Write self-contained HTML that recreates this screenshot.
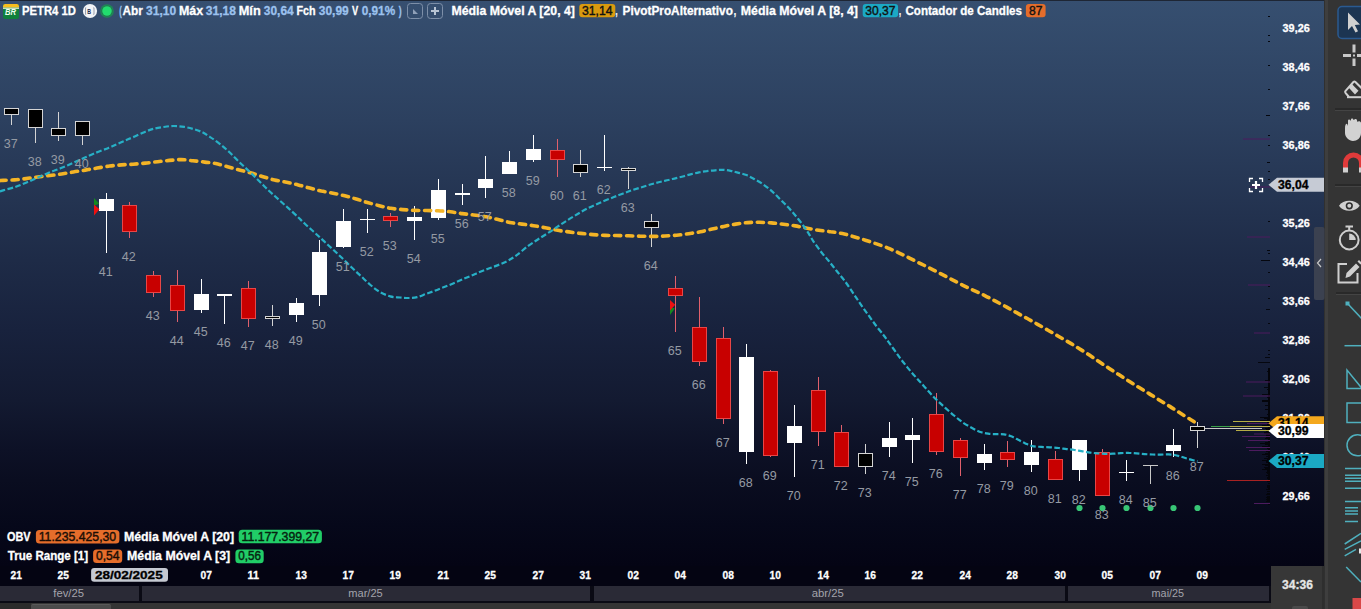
<!DOCTYPE html>
<html><head><meta charset="utf-8">
<style>
*{margin:0;padding:0;box-sizing:border-box}
html,body{width:1361px;height:609px;overflow:hidden;background:#343434;font-family:"Liberation Sans",sans-serif}
.a{position:absolute}
svg{position:absolute;left:0;top:0;font-family:"Liberation Sans",sans-serif}
</style></head><body>
<div class="a" style="left:0;top:0;width:1324px;height:566px;background:linear-gradient(to bottom,#364f70 0px,#2c405f 120px,#1e2b47 260px,#18223d 330px,#131a31 400px,#0d1126 450px,#0a0d20 480px,#06081a 525px,#040414 566px)"></div>
<div class="a" style="left:0;top:566px;width:1271px;height:20px;background:#040412"></div>
<div class="a" style="left:0;top:586px;width:1271px;height:17px;background:#0a0a14"></div>
<div class="a" style="left:0;top:586px;width:139px;height:15px;background:#2a2a36"></div>
<div class="a" style="left:142px;top:586px;width:448px;height:15px;background:#2a2a36"></div>
<div class="a" style="left:594px;top:586px;width:471px;height:15px;background:#2a2a36"></div>
<div class="a" style="left:1068px;top:586px;width:201px;height:15px;background:#2a2a36"></div>
<div class="a" style="left:0;top:603px;width:1271px;height:6px;background:#343434"></div>
<div class="a" style="left:0;top:603px;width:31px;height:6px;background:#2b2b2b"></div>
<div class="a" style="left:31px;top:603.5px;width:80px;height:6px;background:#4b4b4b;border-top:1px solid #585858;border-radius:2px 2px 0 0"></div>
<div class="a" style="left:1271px;top:566px;width:51px;height:43px;background:#373737"></div>
<div class="a" style="left:1292px;top:606px;width:16px;height:3px;background:#4a4a4a;border-radius:2px 2px 0 0"></div>
<div class="a" style="left:1322px;top:566px;width:2px;height:43px;background:#2e2e2e"></div>
<div class="a" style="left:1324px;top:0;width:37px;height:609px;background:#343434"></div>
<div class="a" style="left:1324px;top:0;width:1px;height:609px;background:#303030"></div>
<div class="a" style="left:1325px;top:0;width:3px;height:609px;background:#3e3e3e"></div>
<svg width="1361" height="609" viewBox="0 0 1361 609">
<rect x="1268" y="16" width="2" height="1" fill="#05070f"/>
<rect x="1268" y="35" width="2" height="1" fill="#05070f"/>
<rect x="1268" y="41" width="2" height="1" fill="#05070f"/>
<rect x="1268" y="65" width="2" height="1" fill="#05070f"/>
<rect x="1268" y="89" width="2" height="1" fill="#05070f"/>
<rect x="1266" y="115" width="4" height="1" fill="#05070f"/>
<rect x="1268" y="135" width="2" height="1" fill="#05070f"/>
<rect x="1268" y="145" width="2" height="1" fill="#05070f"/>
<rect x="1267" y="162" width="3" height="1" fill="#05070f"/>
<rect x="1268" y="171" width="2" height="1" fill="#05070f"/>
<rect x="1268" y="179" width="2" height="1" fill="#05070f"/>
<rect x="1268" y="221" width="2" height="1" fill="#05070f"/>
<rect x="1267" y="250" width="3" height="1" fill="#05070f"/>
<rect x="1268" y="253" width="2" height="1" fill="#05070f"/>
<rect x="1261" y="260" width="9" height="1" fill="#05070f"/>
<rect x="1268" y="272" width="2" height="1" fill="#05070f"/>
<rect x="1268" y="286" width="2" height="1" fill="#05070f"/>
<rect x="1268" y="298" width="2" height="1" fill="#05070f"/>
<rect x="1266" y="309" width="4" height="1" fill="#05070f"/>
<rect x="1268" y="323" width="2" height="1" fill="#05070f"/>
<rect x="1268" y="350" width="2" height="1" fill="#05070f"/>
<rect x="1268" y="354" width="2" height="1" fill="#05070f"/>
<rect x="1265" y="357" width="5" height="1" fill="#05070f"/>
<rect x="1258" y="362" width="12" height="1" fill="#05070f"/>
<rect x="1267" y="371" width="3" height="1" fill="#05070f"/>
<rect x="1268" y="375" width="2" height="1" fill="#05070f"/>
<rect x="1265" y="380" width="5" height="1" fill="#05070f"/>
<rect x="1268" y="384" width="2" height="1" fill="#05070f"/>
<rect x="1264" y="387" width="6" height="1" fill="#05070f"/>
<rect x="1267" y="389" width="3" height="1" fill="#05070f"/>
<rect x="1262" y="394" width="8" height="1" fill="#05070f"/>
<rect x="1267" y="397" width="3" height="1" fill="#05070f"/>
<rect x="1268" y="368" width="2" height="112" fill="#04050b"/>
<rect x="1262" y="400" width="8" height="1" fill="#04050b"/>
<rect x="1262" y="401" width="8" height="1" fill="#04050b"/>
<rect x="1265" y="405" width="5" height="1" fill="#04050b"/>
<rect x="1268" y="407" width="2" height="1" fill="#04050b"/>
<rect x="1265" y="409" width="5" height="1" fill="#04050b"/>
<rect x="1268" y="411" width="2" height="1" fill="#04050b"/>
<rect x="1268" y="412" width="2" height="1" fill="#04050b"/>
<rect x="1267" y="414" width="3" height="1" fill="#04050b"/>
<rect x="1260" y="417" width="10" height="1" fill="#04050b"/>
<rect x="1264" y="418" width="6" height="1" fill="#04050b"/>
<rect x="1267" y="419" width="3" height="1" fill="#04050b"/>
<rect x="1260" y="420" width="10" height="1" fill="#04050b"/>
<rect x="1260" y="421" width="10" height="1" fill="#04050b"/>
<rect x="1267" y="422" width="3" height="1" fill="#04050b"/>
<rect x="1267" y="424" width="3" height="1" fill="#04050b"/>
<rect x="1262" y="425" width="8" height="1" fill="#04050b"/>
<rect x="1267" y="426" width="3" height="1" fill="#04050b"/>
<rect x="1265" y="428" width="5" height="1" fill="#04050b"/>
<rect x="1266" y="429" width="4" height="1" fill="#04050b"/>
<rect x="1267" y="430" width="3" height="1" fill="#04050b"/>
<rect x="1266" y="431" width="4" height="1" fill="#04050b"/>
<rect x="1264" y="432" width="6" height="1" fill="#04050b"/>
<rect x="1264" y="433" width="6" height="1" fill="#04050b"/>
<rect x="1266" y="434" width="4" height="1" fill="#04050b"/>
<rect x="1266" y="435" width="4" height="1" fill="#04050b"/>
<rect x="1266" y="437" width="4" height="1" fill="#04050b"/>
<rect x="1265" y="438" width="5" height="1" fill="#04050b"/>
<rect x="1268" y="440" width="2" height="1" fill="#04050b"/>
<rect x="1265" y="442" width="5" height="1" fill="#04050b"/>
<rect x="1260" y="443" width="10" height="1" fill="#04050b"/>
<rect x="1265" y="444" width="5" height="1" fill="#04050b"/>
<rect x="1268" y="445" width="2" height="1" fill="#04050b"/>
<rect x="1262" y="446" width="8" height="1" fill="#04050b"/>
<rect x="1267" y="447" width="3" height="1" fill="#04050b"/>
<rect x="1267" y="448" width="3" height="1" fill="#04050b"/>
<rect x="1266" y="451" width="4" height="1" fill="#04050b"/>
<rect x="1265" y="453" width="5" height="1" fill="#04050b"/>
<rect x="1262" y="454" width="8" height="1" fill="#04050b"/>
<rect x="1266" y="456" width="4" height="1" fill="#04050b"/>
<rect x="1268" y="457" width="2" height="1" fill="#04050b"/>
<rect x="1264" y="458" width="6" height="1" fill="#04050b"/>
<rect x="1267" y="459" width="3" height="1" fill="#04050b"/>
<rect x="1262" y="460" width="8" height="1" fill="#04050b"/>
<rect x="1266" y="461" width="4" height="1" fill="#04050b"/>
<rect x="1266" y="462" width="4" height="1" fill="#04050b"/>
<rect x="1268" y="463" width="2" height="1" fill="#04050b"/>
<rect x="1262" y="464" width="8" height="1" fill="#04050b"/>
<rect x="1265" y="465" width="5" height="1" fill="#04050b"/>
<rect x="1268" y="466" width="2" height="1" fill="#04050b"/>
<rect x="1264" y="467" width="6" height="1" fill="#04050b"/>
<rect x="1265" y="468" width="5" height="1" fill="#04050b"/>
<rect x="1262" y="469" width="8" height="1" fill="#04050b"/>
<rect x="1267" y="470" width="3" height="1" fill="#04050b"/>
<rect x="1267" y="471" width="3" height="1" fill="#04050b"/>
<rect x="1266" y="472" width="4" height="1" fill="#04050b"/>
<rect x="1267" y="473" width="3" height="1" fill="#04050b"/>
<rect x="1268" y="474" width="2" height="1" fill="#04050b"/>
<rect x="1266" y="475" width="4" height="1" fill="#04050b"/>
<rect x="1268" y="476" width="2" height="1" fill="#04050b"/>
<rect x="1267" y="477" width="3" height="1" fill="#04050b"/>
<rect x="1267" y="478" width="3" height="1" fill="#04050b"/>
<rect x="1268" y="479" width="2" height="1" fill="#04050b"/>
<rect x="1267" y="481" width="3" height="1" fill="#04050b"/>
<rect x="1268" y="483" width="2" height="1" fill="#04050b"/>
<rect x="1267" y="485" width="3" height="1" fill="#04050b"/>
<rect x="1267" y="486" width="3" height="1" fill="#04050b"/>
<rect x="1267" y="487" width="3" height="1" fill="#04050b"/>
<rect x="1268" y="488" width="2" height="1" fill="#04050b"/>
<rect x="1266" y="489" width="4" height="1" fill="#04050b"/>
<rect x="1267" y="491" width="3" height="1" fill="#04050b"/>
<rect x="1267" y="493" width="3" height="1" fill="#04050b"/>
<rect x="1266" y="494" width="4" height="1" fill="#04050b"/>
<rect x="1267" y="496" width="3" height="1" fill="#04050b"/>
<rect x="1266" y="497" width="4" height="1" fill="#04050b"/>
<rect x="1267" y="498" width="3" height="1" fill="#04050b"/>
<rect x="1266" y="499" width="4" height="1" fill="#04050b"/>
<rect x="1267" y="500" width="3" height="1" fill="#04050b"/>
<rect x="1266" y="501" width="4" height="1" fill="#04050b"/>
<rect x="1268" y="504" width="2" height="1" fill="#04050b"/>
<line x1="1243" y1="139.0" x2="1270" y2="139.0" stroke="#4c1b5e" stroke-width="1"/>
<line x1="1250" y1="187.0" x2="1270" y2="187.0" stroke="#4c1b5e" stroke-width="1"/>
<line x1="1247" y1="237.0" x2="1270" y2="237.0" stroke="#4c1b5e" stroke-width="1"/>
<line x1="1248" y1="285.0" x2="1270" y2="285.0" stroke="#4c1b5e" stroke-width="1"/>
<line x1="1254" y1="333.0" x2="1270" y2="333.0" stroke="#4c1b5e" stroke-width="1"/>
<line x1="1246" y1="382.0" x2="1270" y2="382.0" stroke="#4c1b5e" stroke-width="1"/>
<line x1="1243" y1="396.0" x2="1270" y2="396.0" stroke="#4c1b5e" stroke-width="1"/>
<line x1="1247" y1="423.5" x2="1270" y2="423.5" stroke="#4c1b5e" stroke-width="1"/>
<line x1="1254" y1="434.0" x2="1270" y2="434.0" stroke="#4c1b5e" stroke-width="1"/>
<line x1="1242" y1="436.5" x2="1270" y2="436.5" stroke="#4c1b5e" stroke-width="1"/>
<line x1="1248" y1="440.5" x2="1270" y2="440.5" stroke="#4c1b5e" stroke-width="1"/>
<line x1="1246" y1="447.5" x2="1270" y2="447.5" stroke="#4c1b5e" stroke-width="1"/>
<line x1="1249" y1="450.5" x2="1270" y2="450.5" stroke="#4c1b5e" stroke-width="1"/>
<line x1="1254" y1="503.5" x2="1270" y2="503.5" stroke="#4c1b5e" stroke-width="1"/>
<line x1="1227" y1="480.5" x2="1270" y2="480.5" stroke="#a82222" stroke-width="1"/>
<line x1="1233" y1="421.5" x2="1270" y2="421.5" stroke="#b5ad45" stroke-width="1"/>
<line x1="1230" y1="426.5" x2="1270" y2="426.5" stroke="#b5ad45" stroke-width="1"/>
<line x1="1211" y1="426.5" x2="1230" y2="426.5" stroke="#3aa048" stroke-width="1"/>
<line x1="1236" y1="430.5" x2="1270" y2="430.5" stroke="#b5ad45" stroke-width="1"/>
<line x1="1205" y1="428.5" x2="1262" y2="428.5" stroke="#c8c8c8" stroke-width="1"/>
<line x1="11.5" y1="108" x2="11.5" y2="125" stroke="#d4d4d4" stroke-width="1"/>
<rect x="4.5" y="108.5" width="14" height="6" fill="#000000" stroke="#d4d4d4" stroke-width="1"/>
<line x1="35.5" y1="109" x2="35.5" y2="143" stroke="#d4d4d4" stroke-width="1"/>
<rect x="28.5" y="109.5" width="14" height="18" fill="#000000" stroke="#d4d4d4" stroke-width="1"/>
<line x1="58.5" y1="112" x2="58.5" y2="141" stroke="#d4d4d4" stroke-width="1"/>
<rect x="51.5" y="128.5" width="14" height="7" fill="#000000" stroke="#d4d4d4" stroke-width="1"/>
<line x1="82.5" y1="121" x2="82.5" y2="145" stroke="#d4d4d4" stroke-width="1"/>
<rect x="75.5" y="121.5" width="14" height="14" fill="#000000" stroke="#d4d4d4" stroke-width="1"/>
<line x1="106.5" y1="193" x2="106.5" y2="253" stroke="#ffffff" stroke-width="1"/>
<rect x="99.5" y="199.5" width="14" height="11" fill="#ffffff" stroke="#ffffff" stroke-width="1"/>
<line x1="129.5" y1="202" x2="129.5" y2="238" stroke="#e0606c" stroke-width="1"/>
<rect x="122.5" y="205.5" width="14" height="26" fill="#c80000" stroke="#e84646" stroke-width="1"/>
<line x1="153.5" y1="271" x2="153.5" y2="297" stroke="#e0606c" stroke-width="1"/>
<rect x="146.5" y="275.5" width="14" height="17" fill="#c80000" stroke="#e84646" stroke-width="1"/>
<line x1="177.5" y1="270" x2="177.5" y2="322" stroke="#e0606c" stroke-width="1"/>
<rect x="170.5" y="285.5" width="14" height="25" fill="#c80000" stroke="#e84646" stroke-width="1"/>
<line x1="201.5" y1="279" x2="201.5" y2="313" stroke="#ffffff" stroke-width="1"/>
<rect x="194.5" y="294.5" width="14" height="15" fill="#ffffff" stroke="#ffffff" stroke-width="1"/>
<line x1="224.5" y1="294" x2="224.5" y2="324" stroke="#ffffff" stroke-width="1"/>
<rect x="217.5" y="294.5" width="14" height="1" fill="#ffffff" stroke="#ffffff" stroke-width="1"/>
<line x1="248.5" y1="281" x2="248.5" y2="327" stroke="#e0606c" stroke-width="1"/>
<rect x="241.5" y="288.5" width="14" height="30" fill="#c80000" stroke="#e84646" stroke-width="1"/>
<line x1="272.5" y1="305" x2="272.5" y2="326" stroke="#d4d4d4" stroke-width="1"/>
<rect x="265.5" y="316.5" width="14" height="2" fill="#000000" stroke="#d4d4d4" stroke-width="1"/>
<line x1="296.5" y1="298" x2="296.5" y2="322" stroke="#ffffff" stroke-width="1"/>
<rect x="289.5" y="303.5" width="14" height="11" fill="#ffffff" stroke="#ffffff" stroke-width="1"/>
<line x1="319.5" y1="240" x2="319.5" y2="306" stroke="#ffffff" stroke-width="1"/>
<rect x="312.5" y="252.5" width="14" height="42" fill="#ffffff" stroke="#ffffff" stroke-width="1"/>
<line x1="343.5" y1="209" x2="343.5" y2="248" stroke="#ffffff" stroke-width="1"/>
<rect x="336.5" y="221.5" width="14" height="25" fill="#ffffff" stroke="#ffffff" stroke-width="1"/>
<line x1="367.5" y1="209" x2="367.5" y2="233" stroke="#ffffff" stroke-width="1"/>
<rect x="360" y="219" width="15" height="1" fill="#ffffff"/>
<line x1="390.5" y1="213" x2="390.5" y2="227" stroke="#e0606c" stroke-width="1"/>
<rect x="383.5" y="216.5" width="14" height="4" fill="#c80000" stroke="#e84646" stroke-width="1"/>
<line x1="414.5" y1="206" x2="414.5" y2="240" stroke="#ffffff" stroke-width="1"/>
<rect x="407.5" y="217.5" width="14" height="3" fill="#ffffff" stroke="#ffffff" stroke-width="1"/>
<line x1="438.5" y1="179" x2="438.5" y2="220" stroke="#ffffff" stroke-width="1"/>
<rect x="431.5" y="190.5" width="14" height="27" fill="#ffffff" stroke="#ffffff" stroke-width="1"/>
<line x1="462.5" y1="184" x2="462.5" y2="205" stroke="#ffffff" stroke-width="1"/>
<rect x="455.5" y="193.5" width="14" height="1" fill="#ffffff" stroke="#ffffff" stroke-width="1"/>
<line x1="485.5" y1="156" x2="485.5" y2="198" stroke="#ffffff" stroke-width="1"/>
<rect x="478.5" y="179.5" width="14" height="8" fill="#ffffff" stroke="#ffffff" stroke-width="1"/>
<line x1="509.5" y1="151" x2="509.5" y2="174" stroke="#ffffff" stroke-width="1"/>
<rect x="502.5" y="162.5" width="14" height="11" fill="#ffffff" stroke="#ffffff" stroke-width="1"/>
<line x1="533.5" y1="135" x2="533.5" y2="162" stroke="#ffffff" stroke-width="1"/>
<rect x="526.5" y="149.5" width="14" height="10" fill="#ffffff" stroke="#ffffff" stroke-width="1"/>
<line x1="557.5" y1="139" x2="557.5" y2="177" stroke="#e0606c" stroke-width="1"/>
<rect x="550.5" y="150.5" width="14" height="9" fill="#c80000" stroke="#e84646" stroke-width="1"/>
<line x1="580.5" y1="150" x2="580.5" y2="177" stroke="#d4d4d4" stroke-width="1"/>
<rect x="573.5" y="164.5" width="14" height="8" fill="#000000" stroke="#d4d4d4" stroke-width="1"/>
<line x1="604.5" y1="135" x2="604.5" y2="171" stroke="#ffffff" stroke-width="1"/>
<rect x="597" y="167" width="15" height="1" fill="#ffffff"/>
<line x1="628.5" y1="167" x2="628.5" y2="189" stroke="#d4d4d4" stroke-width="1"/>
<rect x="621.5" y="168.5" width="14" height="2" fill="#000000" stroke="#d4d4d4" stroke-width="1"/>
<line x1="651.5" y1="214" x2="651.5" y2="247" stroke="#d4d4d4" stroke-width="1"/>
<rect x="644.5" y="221.5" width="14" height="6" fill="#000000" stroke="#d4d4d4" stroke-width="1"/>
<line x1="675.5" y1="276" x2="675.5" y2="332" stroke="#e0606c" stroke-width="1"/>
<rect x="668.5" y="288.5" width="14" height="7" fill="#c80000" stroke="#e84646" stroke-width="1"/>
<line x1="699.5" y1="297" x2="699.5" y2="366" stroke="#e0606c" stroke-width="1"/>
<rect x="692.5" y="327.5" width="14" height="34" fill="#c80000" stroke="#e84646" stroke-width="1"/>
<line x1="723.5" y1="327" x2="723.5" y2="424" stroke="#e0606c" stroke-width="1"/>
<rect x="716.5" y="338.5" width="14" height="80" fill="#c80000" stroke="#e84646" stroke-width="1"/>
<line x1="746.5" y1="344" x2="746.5" y2="464" stroke="#ffffff" stroke-width="1"/>
<rect x="739.5" y="357.5" width="14" height="94" fill="#ffffff" stroke="#ffffff" stroke-width="1"/>
<line x1="770.5" y1="370" x2="770.5" y2="457" stroke="#e0606c" stroke-width="1"/>
<rect x="763.5" y="371.5" width="14" height="84" fill="#c80000" stroke="#e84646" stroke-width="1"/>
<line x1="794.5" y1="405" x2="794.5" y2="477" stroke="#ffffff" stroke-width="1"/>
<rect x="787.5" y="426.5" width="14" height="16" fill="#ffffff" stroke="#ffffff" stroke-width="1"/>
<line x1="818.5" y1="377" x2="818.5" y2="446" stroke="#e0606c" stroke-width="1"/>
<rect x="811.5" y="390.5" width="14" height="41" fill="#c80000" stroke="#e84646" stroke-width="1"/>
<line x1="841.5" y1="425" x2="841.5" y2="467" stroke="#e0606c" stroke-width="1"/>
<rect x="834.5" y="432.5" width="14" height="34" fill="#c80000" stroke="#e84646" stroke-width="1"/>
<line x1="865.5" y1="444" x2="865.5" y2="474" stroke="#d4d4d4" stroke-width="1"/>
<rect x="858.5" y="453.5" width="14" height="13" fill="#000000" stroke="#d4d4d4" stroke-width="1"/>
<line x1="889.5" y1="422" x2="889.5" y2="457" stroke="#ffffff" stroke-width="1"/>
<rect x="882.5" y="438.5" width="14" height="8" fill="#ffffff" stroke="#ffffff" stroke-width="1"/>
<line x1="912.5" y1="418" x2="912.5" y2="463" stroke="#ffffff" stroke-width="1"/>
<rect x="905.5" y="435.5" width="14" height="4" fill="#ffffff" stroke="#ffffff" stroke-width="1"/>
<line x1="936.5" y1="393" x2="936.5" y2="455" stroke="#e0606c" stroke-width="1"/>
<rect x="929.5" y="414.5" width="14" height="37" fill="#c80000" stroke="#e84646" stroke-width="1"/>
<line x1="960.5" y1="438" x2="960.5" y2="476" stroke="#e0606c" stroke-width="1"/>
<rect x="953.5" y="440.5" width="14" height="17" fill="#c80000" stroke="#e84646" stroke-width="1"/>
<line x1="984.5" y1="444" x2="984.5" y2="470" stroke="#ffffff" stroke-width="1"/>
<rect x="977.5" y="454.5" width="14" height="8" fill="#ffffff" stroke="#ffffff" stroke-width="1"/>
<line x1="1007.5" y1="441" x2="1007.5" y2="467" stroke="#e0606c" stroke-width="1"/>
<rect x="1000.5" y="452.5" width="14" height="7" fill="#c80000" stroke="#e84646" stroke-width="1"/>
<line x1="1031.5" y1="440" x2="1031.5" y2="472" stroke="#ffffff" stroke-width="1"/>
<rect x="1024.5" y="452.5" width="14" height="12" fill="#ffffff" stroke="#ffffff" stroke-width="1"/>
<line x1="1055.5" y1="451" x2="1055.5" y2="480" stroke="#e0606c" stroke-width="1"/>
<rect x="1048.5" y="459.5" width="14" height="20" fill="#c80000" stroke="#e84646" stroke-width="1"/>
<line x1="1079.5" y1="440" x2="1079.5" y2="481" stroke="#ffffff" stroke-width="1"/>
<rect x="1072.5" y="440.5" width="14" height="29" fill="#ffffff" stroke="#ffffff" stroke-width="1"/>
<line x1="1102.5" y1="449" x2="1102.5" y2="496" stroke="#e0606c" stroke-width="1"/>
<rect x="1095.5" y="452.5" width="14" height="43" fill="#c80000" stroke="#e84646" stroke-width="1"/>
<line x1="1126.5" y1="460" x2="1126.5" y2="481" stroke="#ffffff" stroke-width="1"/>
<rect x="1119" y="472" width="15" height="1" fill="#ffffff"/>
<line x1="1150.5" y1="465" x2="1150.5" y2="484" stroke="#c8c8c8" stroke-width="1"/>
<rect x="1143" y="465" width="15" height="1" fill="#c8c8c8"/>
<line x1="1173.5" y1="429" x2="1173.5" y2="457" stroke="#ffffff" stroke-width="1"/>
<rect x="1166.5" y="445.5" width="14" height="5" fill="#ffffff" stroke="#ffffff" stroke-width="1"/>
<line x1="1197.5" y1="422" x2="1197.5" y2="448" stroke="#d4d4d4" stroke-width="1"/>
<rect x="1190.5" y="426.5" width="14" height="4" fill="#000000" stroke="#d4d4d4" stroke-width="1"/>
<path d="M0.0,180.6 C0.5,180.6 0.6,180.5 3.0,180.4 C5.4,180.3 10.5,180.2 14.3,179.9 C18.2,179.6 22.2,179.1 26.1,178.6 C30.0,178.1 33.5,177.5 37.5,177.0 C41.5,176.5 45.8,176.0 49.8,175.5 C53.8,175.0 57.7,174.6 61.6,174.0 C65.5,173.4 69.5,172.7 73.4,172.0 C77.4,171.3 81.3,170.8 85.3,170.1 C89.2,169.4 93.0,168.8 97.1,168.1 C101.1,167.4 105.6,166.5 109.6,166.0 C113.6,165.5 117.4,165.2 121.3,164.9 C125.2,164.6 129.1,164.5 133.1,164.2 C137.1,163.9 141.2,163.5 145.3,163.1 C149.4,162.7 153.6,162.1 157.6,161.7 C161.6,161.2 165.4,160.8 169.3,160.4 C173.2,160.1 177.2,159.6 181.1,159.6 C185.0,159.6 188.9,160.3 192.8,160.7 C196.7,161.1 200.8,161.6 204.6,162.1 C208.4,162.6 211.9,162.7 215.7,163.5 C219.5,164.3 223.6,165.6 227.6,166.7 C231.6,167.8 235.4,168.9 239.4,170.0 C243.4,171.1 247.5,171.9 251.4,173.0 C255.3,174.1 259.1,175.5 263.0,176.7 C266.9,177.9 270.6,179.1 274.5,180.0 C278.4,180.9 282.6,181.5 286.5,182.3 C290.4,183.1 294.3,183.9 298.2,184.9 C302.1,185.9 305.9,187.1 309.8,188.1 C313.7,189.1 317.4,190.2 321.3,191.1 C325.2,191.9 329.1,192.4 333.0,193.2 C336.9,194.0 340.9,194.8 344.8,195.8 C348.7,196.8 352.4,197.9 356.2,199.0 C360.0,200.1 363.5,201.4 367.4,202.5 C371.2,203.6 375.4,204.7 379.3,205.7 C383.2,206.7 386.9,207.7 390.8,208.3 C394.7,209.0 398.8,209.2 402.7,209.6 C406.6,209.9 410.6,210.2 414.5,210.4 C418.4,210.6 422.4,210.4 426.3,210.5 C430.2,210.6 434.1,210.6 438.1,210.8 C442.1,211.0 446.4,211.3 450.4,211.8 C454.4,212.3 458.3,213.1 462.2,213.6 C466.1,214.1 469.6,214.5 473.6,215.0 C477.6,215.5 482.3,216.0 486.4,216.8 C490.5,217.6 494.3,218.7 498.2,219.6 C502.1,220.5 505.9,221.7 509.8,222.4 C513.8,223.2 517.9,223.6 521.9,224.1 C525.9,224.6 529.6,225.1 533.5,225.7 C537.4,226.3 541.3,227.0 545.3,227.8 C549.3,228.6 553.7,229.6 557.6,230.3 C561.5,231.0 565.0,231.4 568.9,231.9 C572.8,232.4 576.8,233.0 580.8,233.4 C584.8,233.8 589.1,234.3 593.1,234.6 C597.1,234.9 601.0,235.2 604.9,235.4 C608.8,235.6 612.2,235.4 616.2,235.5 C620.2,235.6 624.6,235.7 628.7,235.8 C632.8,235.9 636.7,236.1 640.7,236.2 C644.8,236.3 649.0,236.4 653.0,236.4 C657.0,236.4 660.9,236.2 664.8,236.0 C668.7,235.8 672.6,235.6 676.6,235.2 C680.6,234.8 684.7,234.3 688.6,233.7 C692.5,233.1 696.4,232.6 700.3,231.8 C704.2,231.0 708.2,230.0 712.1,229.1 C716.0,228.2 720.0,227.2 723.9,226.4 C727.8,225.6 731.8,224.7 735.7,224.1 C739.7,223.5 743.7,222.9 747.6,222.6 C751.5,222.3 755.3,222.2 759.3,222.3 C763.2,222.4 767.3,222.6 771.3,222.9 C775.3,223.2 779.3,223.7 783.3,224.2 C787.3,224.7 791.3,225.2 795.3,225.9 C799.3,226.6 803.3,227.5 807.2,228.2 C811.1,228.9 814.9,229.7 818.8,230.3 C822.7,230.9 826.7,231.1 830.6,231.7 C834.5,232.2 838.5,232.8 842.4,233.6 C846.3,234.4 850.0,235.6 853.8,236.7 C857.6,237.8 861.6,239.0 865.4,240.2 C869.2,241.4 872.8,242.6 876.6,243.9 C880.4,245.2 884.4,246.6 888.1,248.1 C891.8,249.6 895.1,251.1 898.7,252.8 C902.3,254.5 905.9,256.3 909.5,258.1 C913.1,259.9 917.0,261.8 920.6,263.6 C924.2,265.4 927.6,267.0 931.2,268.8 C934.8,270.6 938.5,272.6 942.0,274.4 C945.5,276.2 948.9,278.0 952.4,279.8 C955.9,281.6 959.4,283.5 963.0,285.3 C966.6,287.1 970.4,288.9 974.1,290.6 C977.8,292.4 981.6,294.0 985.2,295.8 C988.8,297.6 992.0,299.4 995.5,301.2 C999.0,303.0 1002.8,305.0 1006.3,306.9 C1009.8,308.8 1013.1,310.8 1016.6,312.7 C1020.1,314.6 1023.8,316.6 1027.3,318.5 C1030.8,320.4 1034.1,322.4 1037.6,324.3 C1041.0,326.2 1044.5,328.2 1048.0,330.2 C1051.5,332.2 1054.8,334.2 1058.3,336.2 C1061.8,338.2 1065.5,340.3 1069.0,342.4 C1072.5,344.4 1075.6,346.4 1079.0,348.5 C1082.4,350.6 1086.1,352.9 1089.4,355.1 C1092.7,357.3 1095.7,359.4 1098.9,361.6 C1102.2,363.8 1105.6,366.0 1108.9,368.2 C1112.2,370.4 1115.5,372.5 1118.8,374.6 C1122.1,376.7 1125.4,378.9 1128.7,381.0 C1132.0,383.1 1135.4,385.2 1138.8,387.3 C1142.2,389.4 1145.7,391.5 1149.1,393.6 C1152.5,395.7 1155.8,397.9 1159.2,400.0 C1162.7,402.1 1166.4,404.3 1169.8,406.4 C1173.2,408.5 1176.3,410.6 1179.8,412.8 C1183.2,415.0 1187.5,417.6 1190.5,419.5 C1193.5,421.4 1196.3,423.2 1197.5,424.0" fill="none" stroke="#f4b426" stroke-width="3.6" stroke-dasharray="6.2 5.8" stroke-linecap="round"/>
<path d="M0.0,191.4 C0.7,191.2 1.4,190.8 3.9,190.1 C6.4,189.4 11.0,188.4 14.8,187.1 C18.6,185.8 22.8,184.0 26.6,182.4 C30.5,180.8 34.1,179.2 37.9,177.5 C41.7,175.8 45.4,174.1 49.3,172.5 C53.2,170.9 57.2,169.7 61.1,168.1 C65.0,166.5 68.6,164.9 72.4,163.2 C76.2,161.5 80.1,159.7 83.8,158.0 C87.5,156.3 90.5,155.0 94.6,153.3 C98.7,151.6 104.8,149.4 108.5,147.9 C112.2,146.4 114.2,145.3 117.1,144.1 C119.9,142.8 122.8,141.6 125.6,140.4 C128.4,139.2 130.9,138.1 134.1,136.7 C137.3,135.3 141.6,133.2 144.8,131.9 C148.0,130.6 150.3,129.7 153.3,128.9 C156.3,128.1 159.5,127.6 162.9,127.1 C166.3,126.6 170.0,126.0 173.6,126.0 C177.2,126.0 180.9,126.4 184.3,126.9 C187.7,127.4 190.9,128.3 193.9,129.2 C196.9,130.1 199.8,131.0 202.4,132.3 C205.1,133.6 206.9,134.9 209.8,136.8 C212.7,138.7 216.4,141.2 219.7,143.8 C223.0,146.4 226.2,149.2 229.5,152.3 C232.8,155.4 236.1,159.0 239.4,162.2 C242.7,165.4 245.9,168.2 249.2,171.3 C252.5,174.4 255.8,177.8 259.1,181.0 C262.4,184.2 265.6,187.6 268.9,190.7 C272.2,193.8 275.4,196.6 278.7,199.6 C282.0,202.6 285.3,205.4 288.6,208.4 C291.9,211.4 295.8,215.0 298.4,217.5 C301.0,220.0 301.8,220.9 304.4,223.3 C306.9,225.7 310.6,229.0 313.7,231.8 C316.8,234.7 320.0,237.5 323.1,240.4 C326.2,243.3 329.4,246.1 332.5,249.0 C335.6,251.9 338.7,254.8 341.8,257.8 C344.9,260.8 348.1,264.0 351.2,267.0 C354.3,270.0 357.4,272.8 360.5,275.7 C363.6,278.6 366.8,281.9 369.9,284.5 C373.0,287.1 375.9,289.6 379.3,291.6 C382.7,293.6 386.8,295.4 390.2,296.4 C393.6,297.4 396.8,297.2 400.0,297.5 C403.2,297.8 406.3,298.1 409.2,298.0 C412.1,297.9 414.5,297.7 417.2,297.1 C419.9,296.5 422.6,295.2 425.3,294.2 C428.0,293.2 430.6,292.3 433.3,291.3 C436.0,290.3 438.7,289.2 441.4,288.1 C444.1,287.1 446.7,286.1 449.4,285.0 C452.1,283.9 454.8,282.8 457.5,281.6 C460.2,280.5 462.8,279.2 465.5,278.1 C468.2,277.0 470.9,275.9 473.6,274.7 C476.3,273.5 478.7,272.3 481.6,271.2 C484.5,270.1 487.7,268.9 490.8,267.8 C493.9,266.7 497.1,265.5 500.0,264.3 C502.9,263.1 505.3,262.2 508.0,260.7 C510.7,259.2 513.0,257.9 516.4,255.4 C519.8,252.9 524.6,248.5 528.6,245.6 C532.6,242.7 536.5,240.4 540.4,237.8 C544.3,235.2 548.4,232.8 552.2,230.3 C556.0,227.9 559.2,225.5 563.0,223.1 C566.8,220.7 570.8,218.1 574.8,215.7 C578.8,213.3 582.6,210.9 586.7,208.8 C590.8,206.7 595.1,204.8 599.5,202.9 C603.9,201.0 609.4,198.8 613.3,197.3 C617.1,195.8 619.8,194.8 622.6,193.7 C625.4,192.6 627.8,191.7 630.3,190.8 C632.8,189.9 635.3,189.2 637.9,188.4 C640.5,187.6 643.0,186.8 645.6,186.0 C648.2,185.2 650.7,184.4 653.2,183.7 C655.7,183.0 658.2,182.3 660.8,181.7 C663.3,181.1 666.0,180.6 668.5,180.0 C671.0,179.4 673.6,178.7 676.1,178.1 C678.6,177.5 681.2,176.9 683.8,176.2 C686.3,175.5 688.9,174.7 691.4,174.1 C693.9,173.5 696.5,172.9 699.0,172.4 C701.5,171.9 704.0,171.5 706.7,171.2 C709.4,170.8 712.6,170.5 715.3,170.3 C718.0,170.1 720.3,169.7 722.9,169.8 C725.5,169.9 728.1,170.3 730.6,170.8 C733.1,171.3 735.1,171.9 737.8,172.6 C740.4,173.3 743.7,174.0 746.5,175.1 C749.3,176.2 751.8,177.7 754.5,179.2 C757.2,180.7 760.1,182.3 762.6,184.0 C765.1,185.7 767.4,187.4 769.5,189.1 C771.6,190.8 773.3,192.5 775.2,194.3 C777.1,196.1 779.1,198.2 781.0,200.1 C782.9,202.0 784.8,203.8 786.7,205.8 C788.6,207.8 790.6,209.9 792.5,212.1 C794.4,214.3 796.3,216.6 798.2,219.0 C800.1,221.4 802.3,224.1 804.0,226.5 C805.7,228.9 807.1,231.0 808.6,233.3 C810.1,235.7 810.9,237.6 812.9,240.6 C814.9,243.6 818.2,248.1 820.8,251.5 C823.4,254.9 826.0,257.6 828.6,260.8 C831.2,264.0 833.9,267.5 836.5,270.8 C839.1,274.1 841.8,277.0 844.4,280.5 C847.0,284.0 849.7,287.9 852.3,291.8 C854.9,295.7 857.6,299.8 860.2,303.6 C862.8,307.4 865.5,311.1 868.1,314.7 C870.7,318.3 873.3,322.0 875.9,325.5 C878.5,329.0 881.6,332.6 883.8,335.5 C886.0,338.4 886.9,339.8 889.0,342.6 C891.1,345.5 893.8,349.3 896.2,352.6 C898.6,355.9 900.9,359.2 903.5,362.5 C906.1,365.8 908.9,369.2 911.6,372.4 C914.3,375.5 917.0,378.4 919.7,381.4 C922.4,384.4 925.1,387.5 927.8,390.5 C930.5,393.5 933.1,396.4 936.0,399.3 C938.9,402.2 942.0,404.9 945.0,407.6 C948.0,410.3 951.0,413.0 954.0,415.5 C957.0,418.0 960.0,420.5 963.0,422.6 C966.0,424.7 969.2,426.4 972.1,428.0 C975.0,429.6 977.6,431.1 980.3,432.0 C983.0,432.9 985.6,433.3 988.2,433.7 C990.9,434.1 993.6,434.0 996.2,434.1 C998.9,434.2 1001.6,433.9 1004.1,434.3 C1006.6,434.7 1008.9,435.4 1011.2,436.3 C1013.6,437.2 1015.9,438.6 1018.2,439.8 C1020.6,441.0 1022.9,442.3 1025.3,443.4 C1027.6,444.4 1029.7,445.5 1032.3,446.1 C1034.9,446.7 1038.1,446.7 1041.1,446.9 C1044.0,447.1 1047.0,447.1 1050.0,447.3 C1053.0,447.5 1056.0,447.7 1058.8,448.0 C1061.6,448.3 1064.1,448.8 1066.7,449.1 C1069.3,449.4 1071.9,449.6 1074.6,450.0 C1077.2,450.4 1080.0,450.9 1082.6,451.3 C1085.2,451.7 1087.6,452.3 1090.0,452.6 C1092.4,452.9 1094.6,453.1 1097.1,453.3 C1099.6,453.5 1102.4,453.8 1105.0,453.9 C1107.6,454.0 1110.2,453.8 1112.9,453.7 C1115.6,453.6 1118.2,453.2 1120.9,453.1 C1123.6,453.0 1126.2,452.8 1128.8,452.9 C1131.4,452.9 1134.0,453.2 1136.7,453.4 C1139.4,453.6 1142.1,453.9 1144.7,454.1 C1147.3,454.3 1150.0,454.4 1152.6,454.5 C1155.2,454.6 1157.8,454.6 1160.5,454.6 C1163.2,454.6 1166.1,454.3 1168.5,454.4 C1170.9,454.5 1172.7,454.6 1174.7,455.0 C1176.8,455.4 1178.8,456.0 1180.8,456.6 C1182.8,457.2 1184.8,457.9 1187.0,458.5 C1189.2,459.1 1192.3,460.0 1194.1,460.5 C1195.8,461.0 1196.9,461.2 1197.5,461.4" fill="none" stroke="#27b0c6" stroke-width="2.2" stroke-dasharray="5.6 2.4"/>
<circle cx="1079.5" cy="508" r="3.1" fill="#38c676"/>
<circle cx="1102.5" cy="508" r="3.1" fill="#38c676"/>
<circle cx="1126.5" cy="508" r="3.1" fill="#38c676"/>
<circle cx="1150.5" cy="508" r="3.1" fill="#38c676"/>
<circle cx="1173.5" cy="508" r="3.1" fill="#38c676"/>
<circle cx="1197.5" cy="508" r="3.1" fill="#38c676"/>
<text x="3.80" y="148.00" font-size="12.5"  fill="#959aa3" textLength="13.90" lengthAdjust="spacingAndGlyphs">37</text>
<text x="27.80" y="166.00" font-size="12.5"  fill="#959aa3" textLength="13.90" lengthAdjust="spacingAndGlyphs">38</text>
<text x="50.80" y="164.00" font-size="12.5"  fill="#959aa3" textLength="13.90" lengthAdjust="spacingAndGlyphs">39</text>
<text x="74.80" y="168.00" font-size="12.5"  fill="#959aa3" textLength="13.90" lengthAdjust="spacingAndGlyphs">40</text>
<text x="98.80" y="276.00" font-size="12.5"  fill="#959aa3" textLength="13.90" lengthAdjust="spacingAndGlyphs">41</text>
<text x="121.80" y="261.00" font-size="12.5"  fill="#959aa3" textLength="13.90" lengthAdjust="spacingAndGlyphs">42</text>
<text x="145.80" y="320.00" font-size="12.5"  fill="#959aa3" textLength="13.90" lengthAdjust="spacingAndGlyphs">43</text>
<text x="169.80" y="345.00" font-size="12.5"  fill="#959aa3" textLength="13.90" lengthAdjust="spacingAndGlyphs">44</text>
<text x="193.80" y="336.00" font-size="12.5"  fill="#959aa3" textLength="13.90" lengthAdjust="spacingAndGlyphs">45</text>
<text x="216.80" y="347.00" font-size="12.5"  fill="#959aa3" textLength="13.90" lengthAdjust="spacingAndGlyphs">46</text>
<text x="240.80" y="350.00" font-size="12.5"  fill="#959aa3" textLength="13.90" lengthAdjust="spacingAndGlyphs">47</text>
<text x="264.80" y="349.00" font-size="12.5"  fill="#959aa3" textLength="13.90" lengthAdjust="spacingAndGlyphs">48</text>
<text x="288.80" y="345.00" font-size="12.5"  fill="#959aa3" textLength="13.90" lengthAdjust="spacingAndGlyphs">49</text>
<text x="311.80" y="329.00" font-size="12.5"  fill="#959aa3" textLength="13.90" lengthAdjust="spacingAndGlyphs">50</text>
<text x="335.80" y="271.00" font-size="12.5"  fill="#959aa3" textLength="13.90" lengthAdjust="spacingAndGlyphs">51</text>
<text x="359.80" y="256.00" font-size="12.5"  fill="#959aa3" textLength="13.90" lengthAdjust="spacingAndGlyphs">52</text>
<text x="382.80" y="250.00" font-size="12.5"  fill="#959aa3" textLength="13.90" lengthAdjust="spacingAndGlyphs">53</text>
<text x="406.80" y="263.00" font-size="12.5"  fill="#959aa3" textLength="13.90" lengthAdjust="spacingAndGlyphs">54</text>
<text x="430.80" y="243.00" font-size="12.5"  fill="#959aa3" textLength="13.90" lengthAdjust="spacingAndGlyphs">55</text>
<text x="454.80" y="228.00" font-size="12.5"  fill="#959aa3" textLength="13.90" lengthAdjust="spacingAndGlyphs">56</text>
<text x="477.80" y="221.00" font-size="12.5"  fill="#959aa3" textLength="13.90" lengthAdjust="spacingAndGlyphs">57</text>
<text x="501.80" y="197.00" font-size="12.5"  fill="#959aa3" textLength="13.90" lengthAdjust="spacingAndGlyphs">58</text>
<text x="525.80" y="185.00" font-size="12.5"  fill="#959aa3" textLength="13.90" lengthAdjust="spacingAndGlyphs">59</text>
<text x="549.80" y="200.00" font-size="12.5"  fill="#959aa3" textLength="13.90" lengthAdjust="spacingAndGlyphs">60</text>
<text x="572.80" y="200.00" font-size="12.5"  fill="#959aa3" textLength="13.90" lengthAdjust="spacingAndGlyphs">61</text>
<text x="596.80" y="194.00" font-size="12.5"  fill="#959aa3" textLength="13.90" lengthAdjust="spacingAndGlyphs">62</text>
<text x="620.80" y="212.00" font-size="12.5"  fill="#959aa3" textLength="13.90" lengthAdjust="spacingAndGlyphs">63</text>
<text x="643.80" y="270.00" font-size="12.5"  fill="#959aa3" textLength="13.90" lengthAdjust="spacingAndGlyphs">64</text>
<text x="667.80" y="355.00" font-size="12.5"  fill="#959aa3" textLength="13.90" lengthAdjust="spacingAndGlyphs">65</text>
<text x="691.80" y="389.00" font-size="12.5"  fill="#959aa3" textLength="13.90" lengthAdjust="spacingAndGlyphs">66</text>
<text x="715.80" y="447.00" font-size="12.5"  fill="#959aa3" textLength="13.90" lengthAdjust="spacingAndGlyphs">67</text>
<text x="738.80" y="487.00" font-size="12.5"  fill="#959aa3" textLength="13.90" lengthAdjust="spacingAndGlyphs">68</text>
<text x="762.80" y="480.00" font-size="12.5"  fill="#959aa3" textLength="13.90" lengthAdjust="spacingAndGlyphs">69</text>
<text x="786.80" y="500.00" font-size="12.5"  fill="#959aa3" textLength="13.90" lengthAdjust="spacingAndGlyphs">70</text>
<text x="810.80" y="469.00" font-size="12.5"  fill="#959aa3" textLength="13.90" lengthAdjust="spacingAndGlyphs">71</text>
<text x="833.80" y="490.00" font-size="12.5"  fill="#959aa3" textLength="13.90" lengthAdjust="spacingAndGlyphs">72</text>
<text x="857.80" y="497.00" font-size="12.5"  fill="#959aa3" textLength="13.90" lengthAdjust="spacingAndGlyphs">73</text>
<text x="881.80" y="480.00" font-size="12.5"  fill="#959aa3" textLength="13.90" lengthAdjust="spacingAndGlyphs">74</text>
<text x="904.80" y="486.00" font-size="12.5"  fill="#959aa3" textLength="13.90" lengthAdjust="spacingAndGlyphs">75</text>
<text x="928.80" y="478.00" font-size="12.5"  fill="#959aa3" textLength="13.90" lengthAdjust="spacingAndGlyphs">76</text>
<text x="952.80" y="499.00" font-size="12.5"  fill="#959aa3" textLength="13.90" lengthAdjust="spacingAndGlyphs">77</text>
<text x="976.80" y="493.00" font-size="12.5"  fill="#959aa3" textLength="13.90" lengthAdjust="spacingAndGlyphs">78</text>
<text x="999.80" y="490.00" font-size="12.5"  fill="#959aa3" textLength="13.90" lengthAdjust="spacingAndGlyphs">79</text>
<text x="1023.80" y="495.00" font-size="12.5"  fill="#959aa3" textLength="13.90" lengthAdjust="spacingAndGlyphs">80</text>
<text x="1047.80" y="503.00" font-size="12.5"  fill="#959aa3" textLength="13.90" lengthAdjust="spacingAndGlyphs">81</text>
<text x="1071.80" y="504.00" font-size="12.5"  fill="#959aa3" textLength="13.90" lengthAdjust="spacingAndGlyphs">82</text>
<text x="1094.80" y="519.00" font-size="12.5"  fill="#959aa3" textLength="13.90" lengthAdjust="spacingAndGlyphs">83</text>
<text x="1118.80" y="504.00" font-size="12.5"  fill="#959aa3" textLength="13.90" lengthAdjust="spacingAndGlyphs">84</text>
<text x="1142.80" y="507.00" font-size="12.5"  fill="#959aa3" textLength="13.90" lengthAdjust="spacingAndGlyphs">85</text>
<text x="1165.80" y="480.00" font-size="12.5"  fill="#959aa3" textLength="13.90" lengthAdjust="spacingAndGlyphs">86</text>
<text x="1189.80" y="471.00" font-size="12.5"  fill="#959aa3" textLength="13.90" lengthAdjust="spacingAndGlyphs">87</text>
<path d="M94,198 L99.2,203.5 L94,206 Z" fill="#138a1e"/><path d="M94,204.5 L99.5,209.2 L94,215.5 Z" fill="#f01010"/><path d="M670,307 L674.8,308.5 L670,315 Z" fill="#138a1e"/><path d="M670,300 L675.2,304.8 L670,310.5 Z" fill="#f01010"/>
<rect x="0" y="0" width="1324" height="1" fill="#1e2634"/>
<rect x="3" y="4" width="16" height="15" rx="2.2" fill="#0f803c"/><path d="M5.2,4 H16.8 A2.2,2.2 0 0 1 19,6.2 V7.6 H3 V6.2 A2.2,2.2 0 0 1 5.2,4 Z" fill="#f7bd1e"/><rect x="3" y="7.6" width="16" height="1.2" fill="#f4f6d8"/>
<text x="5.00" y="15.00" font-size="9" font-weight="bold" fill="#f0fff0" textLength="11.00" lengthAdjust="spacingAndGlyphs" font-style="italic">BR</text>
<text x="22.00" y="15.00" font-size="12.5" font-weight="bold" fill="#ffffff" textLength="53.99" lengthAdjust="spacingAndGlyphs" stroke="#ffffff" stroke-width="0.3">PETR4 1D</text>
<circle cx="90" cy="11" r="7.1" fill="#f2f4f7"/>
<path d="M86.2,7.8 H85.5 V14.3 H86.2 M93.3,7.8 H94 V14.3 H93.3" fill="none" stroke="#8e96a6" stroke-width="0.9"/>
<text x="87.20" y="13.80" font-size="6.5" font-weight="bold" fill="#1e2e50" textLength="3.79" lengthAdjust="spacingAndGlyphs">B</text>
<circle cx="107" cy="11" r="6.8" fill="#1e8a55"/><circle cx="107" cy="11" r="5.5" fill="#23704f"/><circle cx="107" cy="11" r="4.8" fill="#22dc6e"/>
<text x="119.30" y="15.00" font-size="12.5" font-weight="bold" fill="#9cc2ee" textLength="2.48" lengthAdjust="spacingAndGlyphs" stroke="#9cc2ee" stroke-width="0.3">(</text>
<text x="122.50" y="15.00" font-size="12.5" font-weight="bold" fill="#fff" textLength="20.38" lengthAdjust="spacingAndGlyphs" stroke="#fff" stroke-width="0.3">Abr</text>
<text x="146.00" y="15.00" font-size="12.5" font-weight="bold" fill="#9cc2ee" textLength="30.18" lengthAdjust="spacingAndGlyphs" stroke="#9cc2ee" stroke-width="0.3">31,10</text>
<text x="178.90" y="15.00" font-size="12.5" font-weight="bold" fill="#fff" textLength="24.22" lengthAdjust="spacingAndGlyphs" stroke="#fff" stroke-width="0.3">Máx</text>
<text x="205.80" y="15.00" font-size="12.5" font-weight="bold" fill="#9cc2ee" textLength="30.18" lengthAdjust="spacingAndGlyphs" stroke="#9cc2ee" stroke-width="0.3">31,18</text>
<text x="238.70" y="15.00" font-size="12.5" font-weight="bold" fill="#fff" textLength="22.02" lengthAdjust="spacingAndGlyphs" stroke="#fff" stroke-width="0.3">Mín</text>
<text x="263.80" y="15.00" font-size="12.5" font-weight="bold" fill="#9cc2ee" textLength="29.88" lengthAdjust="spacingAndGlyphs" stroke="#9cc2ee" stroke-width="0.3">30,64</text>
<text x="296.50" y="15.00" font-size="12.5" font-weight="bold" fill="#fff" textLength="19.12" lengthAdjust="spacingAndGlyphs" stroke="#fff" stroke-width="0.3">Fch</text>
<text x="318.80" y="15.00" font-size="12.5" font-weight="bold" fill="#9cc2ee" textLength="29.98" lengthAdjust="spacingAndGlyphs" stroke="#9cc2ee" stroke-width="0.3">30,99</text>
<text x="352.00" y="15.00" font-size="12.5" font-weight="bold" fill="#fff" textLength="6.19" lengthAdjust="spacingAndGlyphs" stroke="#fff" stroke-width="0.3">V</text>
<text x="361.70" y="15.00" font-size="12.5" font-weight="bold" fill="#9cc2ee" textLength="33.49" lengthAdjust="spacingAndGlyphs" stroke="#9cc2ee" stroke-width="0.3">0,91%</text>
<text x="398.80" y="15.00" font-size="12.5" font-weight="bold" fill="#9cc2ee" textLength="2.91" lengthAdjust="spacingAndGlyphs" stroke="#9cc2ee" stroke-width="0.3">)</text>
<rect x="407.5" y="3.5" width="15" height="15" rx="3" fill="none" stroke="#7d8fa8" stroke-width="1"/>
<path d="M413,9 L413,14 L418,14 Z" fill="#8fa0b8"/>
<rect x="427.5" y="3.5" width="15" height="15" rx="3" fill="none" stroke="#7d8fa8" stroke-width="1"/>
<path d="M435,7 V15 M431,11 H439" stroke="#b8c4d4" stroke-width="2"/>
<text x="451.50" y="15.00" font-size="12.5" font-weight="bold" fill="#fff" textLength="123.39" lengthAdjust="spacingAndGlyphs" stroke="#fff" stroke-width="0.3">Média Móvel A [20, 4]</text>
<rect x="579.3" y="4.1" width="36" height="13.2" rx="3" fill="#d99a0e"/>
<text x="582.00" y="15.00" font-size="12.5"  fill="#111" textLength="30.48" lengthAdjust="spacingAndGlyphs" stroke="#111" stroke-width="0.4">31,14</text>
<text x="615.60" y="15.00" font-size="12.5" font-weight="bold" fill="#fff" textLength="2.01" lengthAdjust="spacingAndGlyphs" stroke="#fff" stroke-width="0.3">,</text>
<text x="622.50" y="15.00" font-size="12.5" font-weight="bold" fill="#fff" textLength="110.39" lengthAdjust="spacingAndGlyphs" stroke="#fff" stroke-width="0.3">PivotProAlternativo</text>
<text x="733.80" y="15.00" font-size="12.5" font-weight="bold" fill="#fff" textLength="2.42" lengthAdjust="spacingAndGlyphs" stroke="#fff" stroke-width="0.3">,</text>
<text x="740.80" y="15.00" font-size="12.5" font-weight="bold" fill="#fff" textLength="117.19" lengthAdjust="spacingAndGlyphs" stroke="#fff" stroke-width="0.3">Média Móvel A [8, 4]</text>
<rect x="862.7" y="3.9" width="35.4" height="13.4" rx="3" fill="#1ba9c4"/>
<text x="865.20" y="15.00" font-size="12.5"  fill="#111" textLength="30.28" lengthAdjust="spacingAndGlyphs" stroke="#111" stroke-width="0.4">30,37</text>
<text x="899.00" y="15.00" font-size="12.5" font-weight="bold" fill="#fff" textLength="2.01" lengthAdjust="spacingAndGlyphs" stroke="#fff" stroke-width="0.3">,</text>
<text x="905.50" y="15.00" font-size="12.5" font-weight="bold" fill="#fff" textLength="116.50" lengthAdjust="spacingAndGlyphs" stroke="#fff" stroke-width="0.3">Contador de Candles</text>
<rect x="1025.9" y="3.9" width="19.7" height="13.4" rx="3" fill="#e56d2b"/>
<text x="1029.00" y="15.00" font-size="12.5"  fill="#111" textLength="13.50" lengthAdjust="spacingAndGlyphs" stroke="#111" stroke-width="0.4">87</text>
<text x="1282.60" y="32.20" font-size="11.5" font-weight="bold" fill="#ffffff" textLength="27.08" lengthAdjust="spacingAndGlyphs" stroke="#ffffff" stroke-width="0.3">39,26</text>
<text x="1282.60" y="71.20" font-size="11.5" font-weight="bold" fill="#ffffff" textLength="27.08" lengthAdjust="spacingAndGlyphs" stroke="#ffffff" stroke-width="0.3">38,46</text>
<text x="1282.60" y="110.20" font-size="11.5" font-weight="bold" fill="#ffffff" textLength="27.08" lengthAdjust="spacingAndGlyphs" stroke="#ffffff" stroke-width="0.3">37,66</text>
<text x="1282.60" y="149.20" font-size="11.5" font-weight="bold" fill="#ffffff" textLength="27.08" lengthAdjust="spacingAndGlyphs" stroke="#ffffff" stroke-width="0.3">36,86</text>
<text x="1282.60" y="188.20" font-size="11.5" font-weight="bold" fill="#ffffff" textLength="27.08" lengthAdjust="spacingAndGlyphs" stroke="#ffffff" stroke-width="0.3">36,06</text>
<text x="1282.60" y="227.20" font-size="11.5" font-weight="bold" fill="#ffffff" textLength="27.08" lengthAdjust="spacingAndGlyphs" stroke="#ffffff" stroke-width="0.3">35,26</text>
<text x="1282.60" y="266.20" font-size="11.5" font-weight="bold" fill="#ffffff" textLength="27.08" lengthAdjust="spacingAndGlyphs" stroke="#ffffff" stroke-width="0.3">34,46</text>
<text x="1282.60" y="305.20" font-size="11.5" font-weight="bold" fill="#ffffff" textLength="27.08" lengthAdjust="spacingAndGlyphs" stroke="#ffffff" stroke-width="0.3">33,66</text>
<text x="1282.60" y="344.20" font-size="11.5" font-weight="bold" fill="#ffffff" textLength="27.08" lengthAdjust="spacingAndGlyphs" stroke="#ffffff" stroke-width="0.3">32,86</text>
<text x="1282.60" y="383.20" font-size="11.5" font-weight="bold" fill="#ffffff" textLength="27.08" lengthAdjust="spacingAndGlyphs" stroke="#ffffff" stroke-width="0.3">32,06</text>
<text x="1282.60" y="422.20" font-size="11.5" font-weight="bold" fill="#ffffff" textLength="27.08" lengthAdjust="spacingAndGlyphs" stroke="#ffffff" stroke-width="0.3">31,26</text>
<text x="1282.60" y="461.20" font-size="11.5" font-weight="bold" fill="#ffffff" textLength="27.08" lengthAdjust="spacingAndGlyphs" stroke="#ffffff" stroke-width="0.3">30,46</text>
<text x="1282.60" y="500.20" font-size="11.5" font-weight="bold" fill="#ffffff" textLength="27.08" lengthAdjust="spacingAndGlyphs" stroke="#ffffff" stroke-width="0.3">29,66</text>
<path d="M1268.5,184.8 L1277,177.8 H1324 V191.8 H1277 Z" fill="#c6cbd5"/>
<text x="1278.00" y="188.80" font-size="12" font-weight="bold" fill="#000" textLength="30.58" lengthAdjust="spacingAndGlyphs" stroke="#000" stroke-width="0.3">36,04</text>
<path d="M1268.5,423.3 L1277,416.3 H1324 V430.3 H1277 Z" fill="#f4a81d"/>
<text x="1278.00" y="427.30" font-size="12" font-weight="bold" fill="#000" textLength="30.58" lengthAdjust="spacingAndGlyphs" stroke="#000" stroke-width="0.3">31,14</text>
<path d="M1268.5,430.9 L1277,423.9 H1324 V437.9 H1277 Z" fill="#ffffff"/>
<text x="1278.00" y="434.90" font-size="12" font-weight="bold" fill="#000" textLength="30.58" lengthAdjust="spacingAndGlyphs" stroke="#000" stroke-width="0.3">30,99</text>
<path d="M1268.5,461.0 L1277,454.0 H1324 V468.0 H1277 Z" fill="#1ba9c4"/>
<text x="1278.00" y="465.00" font-size="12" font-weight="bold" fill="#000" textLength="30.58" lengthAdjust="spacingAndGlyphs" stroke="#000" stroke-width="0.3">30,37</text>
<path d="M1249.5,182 V178.5 H1253 M1259,178.5 H1262.5 V182 M1262.5,188 V191.5 H1259 M1253,191.5 H1249.5 V188" fill="none" stroke="#fff" stroke-width="1.3"/>
<path d="M1256,181 V189 M1252,185 H1260" stroke="#fff" stroke-width="2.2"/>
<rect x="1314" y="227" width="10.5" height="73" rx="2" fill="#3b4150"/>
<path d="M1321,259 L1317.5,263 L1321,267" fill="none" stroke="#c8c8c8" stroke-width="1.2"/>
<text x="6.90" y="541.00" font-size="12" font-weight="bold" fill="#fff" textLength="23.70" lengthAdjust="spacingAndGlyphs" stroke="#fff" stroke-width="0.3">OBV</text>
<rect x="35.9" y="530" width="83.5" height="13.5" rx="3.5" fill="#e56d2b"/>
<text x="38.70" y="541.00" font-size="12"  fill="#1a0d05" textLength="77.50" lengthAdjust="spacingAndGlyphs" stroke="#1a0d05" stroke-width="0.4">11.235.425,30</text>
<text x="123.90" y="541.00" font-size="12" font-weight="bold" fill="#fff" textLength="110.19" lengthAdjust="spacingAndGlyphs" stroke="#fff" stroke-width="0.3">Média Móvel A [20]</text>
<rect x="238.7" y="529.8" width="83.2" height="13.5" rx="3.5" fill="#21cd67"/>
<text x="241.50" y="541.00" font-size="12"  fill="#06220f" textLength="77.70" lengthAdjust="spacingAndGlyphs" stroke="#06220f" stroke-width="0.4">11.177.399,27</text>
<text x="7.75" y="560.00" font-size="12" font-weight="bold" fill="#fff" textLength="80.35" lengthAdjust="spacingAndGlyphs" stroke="#fff" stroke-width="0.3">True Range [1]</text>
<rect x="93.1" y="549.4" width="29.1" height="13.7" rx="3.5" fill="#e56d2b"/>
<text x="96.00" y="560.00" font-size="12"  fill="#1a0d05" textLength="23.51" lengthAdjust="spacingAndGlyphs" stroke="#1a0d05" stroke-width="0.4">0,54</text>
<text x="127.10" y="560.00" font-size="12" font-weight="bold" fill="#fff" textLength="103.01" lengthAdjust="spacingAndGlyphs" stroke="#fff" stroke-width="0.3">Média Móvel A [3]</text>
<rect x="235.4" y="549.6" width="28.3" height="13.6" rx="3.5" fill="#21cd67"/>
<text x="238.30" y="560.00" font-size="12"  fill="#06220f" textLength="22.71" lengthAdjust="spacingAndGlyphs" stroke="#06220f" stroke-width="0.4">0,56</text>
<text x="10.60" y="579.00" font-size="11" font-weight="bold" fill="#fff" textLength="11.39" lengthAdjust="spacingAndGlyphs" stroke="#fff" stroke-width="0.3">21</text>
<text x="57.60" y="579.00" font-size="11" font-weight="bold" fill="#fff" textLength="11.39" lengthAdjust="spacingAndGlyphs" stroke="#fff" stroke-width="0.3">25</text>
<text x="200.60" y="579.00" font-size="11" font-weight="bold" fill="#fff" textLength="11.39" lengthAdjust="spacingAndGlyphs" stroke="#fff" stroke-width="0.3">07</text>
<text x="247.60" y="579.00" font-size="11" font-weight="bold" fill="#fff" textLength="11.38" lengthAdjust="spacingAndGlyphs" stroke="#fff" stroke-width="0.3">11</text>
<text x="295.60" y="579.00" font-size="11" font-weight="bold" fill="#fff" textLength="11.39" lengthAdjust="spacingAndGlyphs" stroke="#fff" stroke-width="0.3">13</text>
<text x="342.60" y="579.00" font-size="11" font-weight="bold" fill="#fff" textLength="11.39" lengthAdjust="spacingAndGlyphs" stroke="#fff" stroke-width="0.3">17</text>
<text x="389.60" y="579.00" font-size="11" font-weight="bold" fill="#fff" textLength="11.39" lengthAdjust="spacingAndGlyphs" stroke="#fff" stroke-width="0.3">19</text>
<text x="437.60" y="579.00" font-size="11" font-weight="bold" fill="#fff" textLength="11.39" lengthAdjust="spacingAndGlyphs" stroke="#fff" stroke-width="0.3">21</text>
<text x="484.60" y="579.00" font-size="11" font-weight="bold" fill="#fff" textLength="11.39" lengthAdjust="spacingAndGlyphs" stroke="#fff" stroke-width="0.3">25</text>
<text x="532.60" y="579.00" font-size="11" font-weight="bold" fill="#fff" textLength="11.39" lengthAdjust="spacingAndGlyphs" stroke="#fff" stroke-width="0.3">27</text>
<text x="579.60" y="579.00" font-size="11" font-weight="bold" fill="#fff" textLength="11.39" lengthAdjust="spacingAndGlyphs" stroke="#fff" stroke-width="0.3">31</text>
<text x="627.60" y="579.00" font-size="11" font-weight="bold" fill="#fff" textLength="11.39" lengthAdjust="spacingAndGlyphs" stroke="#fff" stroke-width="0.3">02</text>
<text x="674.60" y="579.00" font-size="11" font-weight="bold" fill="#fff" textLength="11.39" lengthAdjust="spacingAndGlyphs" stroke="#fff" stroke-width="0.3">04</text>
<text x="722.60" y="579.00" font-size="11" font-weight="bold" fill="#fff" textLength="11.39" lengthAdjust="spacingAndGlyphs" stroke="#fff" stroke-width="0.3">08</text>
<text x="769.60" y="579.00" font-size="11" font-weight="bold" fill="#fff" textLength="11.39" lengthAdjust="spacingAndGlyphs" stroke="#fff" stroke-width="0.3">10</text>
<text x="817.60" y="579.00" font-size="11" font-weight="bold" fill="#fff" textLength="11.39" lengthAdjust="spacingAndGlyphs" stroke="#fff" stroke-width="0.3">14</text>
<text x="864.60" y="579.00" font-size="11" font-weight="bold" fill="#fff" textLength="11.39" lengthAdjust="spacingAndGlyphs" stroke="#fff" stroke-width="0.3">16</text>
<text x="911.60" y="579.00" font-size="11" font-weight="bold" fill="#fff" textLength="11.39" lengthAdjust="spacingAndGlyphs" stroke="#fff" stroke-width="0.3">22</text>
<text x="959.60" y="579.00" font-size="11" font-weight="bold" fill="#fff" textLength="11.39" lengthAdjust="spacingAndGlyphs" stroke="#fff" stroke-width="0.3">24</text>
<text x="1006.60" y="579.00" font-size="11" font-weight="bold" fill="#fff" textLength="11.39" lengthAdjust="spacingAndGlyphs" stroke="#fff" stroke-width="0.3">28</text>
<text x="1054.60" y="579.00" font-size="11" font-weight="bold" fill="#fff" textLength="11.39" lengthAdjust="spacingAndGlyphs" stroke="#fff" stroke-width="0.3">30</text>
<text x="1101.60" y="579.00" font-size="11" font-weight="bold" fill="#fff" textLength="11.39" lengthAdjust="spacingAndGlyphs" stroke="#fff" stroke-width="0.3">05</text>
<text x="1149.60" y="579.00" font-size="11" font-weight="bold" fill="#fff" textLength="11.39" lengthAdjust="spacingAndGlyphs" stroke="#fff" stroke-width="0.3">07</text>
<text x="1196.60" y="579.00" font-size="11" font-weight="bold" fill="#fff" textLength="11.39" lengthAdjust="spacingAndGlyphs" stroke="#fff" stroke-width="0.3">09</text>
<rect x="91.1" y="568" width="76.9" height="13.8" rx="3" fill="#c5c9d2"/>
<text x="94.90" y="579.00" font-size="11.5" font-weight="bold" fill="#000" textLength="67.81" lengthAdjust="spacingAndGlyphs" stroke="#000" stroke-width="0.3">28/02/2025</text>
<text x="53.30" y="597.00" font-size="11.5"  fill="#a4a4ac" textLength="30.78" lengthAdjust="spacingAndGlyphs">fev/25</text>
<text x="348.30" y="597.00" font-size="11.5"  fill="#a4a4ac" textLength="34.39" lengthAdjust="spacingAndGlyphs">mar/25</text>
<text x="811.70" y="597.00" font-size="11.5"  fill="#a4a4ac" textLength="32.11" lengthAdjust="spacingAndGlyphs">abr/25</text>
<text x="1151.60" y="597.00" font-size="11.5"  fill="#a4a4ac" textLength="32.52" lengthAdjust="spacingAndGlyphs">mai/25</text>
<text x="1282.10" y="589.00" font-size="12" font-weight="bold" fill="#e6e6e6" textLength="30.89" lengthAdjust="spacingAndGlyphs" stroke="#e6e6e6" stroke-width="0.3">34:36</text>
<rect x="1338" y="6.5" width="30" height="32" rx="4" fill="#1c3552" stroke="#2a5a90" stroke-width="1.5"/>
<path d="M1348,12.5 L1348,30 L1352,26 L1355.5,32.5 L1358,31.2 L1354.8,25 L1360,24.5 Z" fill="#d0d0d0"/>
<path d="M1354,44.5 V52.5 M1354,58.5 V66 M1343,55.5 H1351 M1357,55.5 H1362" stroke="#c8c8c8" stroke-width="3"/>
<rect x="1353" y="54.5" width="2" height="2" fill="#c8c8c8"/>
<path d="M1349,97 L1345.5,92.8 Q1344.8,91.8 1345.6,90.8 L1353.4,82 Q1354.4,81 1355.4,82 L1362,88.5" fill="none" stroke="#d0d0d0" stroke-width="2"/><path d="M1347,97.2 H1361" stroke="#d0d0d0" stroke-width="2"/><path d="M1348.6,87.6 L1351.8,84 L1358.5,90.8 L1355,94.5 Z" fill="#d0d0d0"/>
<line x1="1335" y1="109" x2="1361" y2="109" stroke="#232323" stroke-width="1.2"/><line x1="1335" y1="110.5" x2="1361" y2="110.5" stroke="#444" stroke-width="1"/>
<path d="M1345,128 C1345,124 1347,122 1348,126 L1348,121 C1348,119 1350,119 1350.5,121 L1351,119.5 C1351,118 1353.5,118 1353.5,120 L1354,120 C1354.5,118.5 1357,118.5 1357,120.5 L1357.5,122 C1358,120.5 1361,121 1361,123 L1361,133 C1361,138 1357,141 1353,141 C1349,141 1345,137 1345,133 Z" fill="#d2d2d2"/>
<path d="M1345.5,169 V163 A8,8 0 0 1 1361.5,163 V169" fill="none" stroke="#e03a3a" stroke-width="5"/>
<rect x="1343" y="167.5" width="5" height="5" fill="#d0d0d0"/><rect x="1359" y="167.5" width="5" height="5" fill="#d0d0d0"/>
<line x1="1335" y1="185" x2="1361" y2="185" stroke="#232323" stroke-width="1.2"/><line x1="1335" y1="186.5" x2="1361" y2="186.5" stroke="#444" stroke-width="1"/>
<path d="M1339,205.8 C1343,199 1355.5,199 1359.7,205.8 C1355.5,212.5 1343,212.5 1339,205.8 Z" fill="#cfcfcf"/>
<circle cx="1349.3" cy="205.8" r="3.6" fill="#2e2e2e"/><circle cx="1349.3" cy="205.8" r="2" fill="#cfcfcf"/>
<circle cx="1349.2" cy="240" r="9.4" fill="none" stroke="#cfcfcf" stroke-width="2"/>
<path d="M1349.2,240 V233.5 A6.5,6.5 0 0 1 1355.7,240 Z" fill="#cfcfcf"/>
<path d="M1349.2,230.5 V227 M1345.5,226.5 H1353" stroke="#cfcfcf" stroke-width="2"/>
<path d="M1347,264 H1338.5 V282.5 H1357.5 V273" fill="none" stroke="#cfcfcf" stroke-width="2"/>
<path d="M1345.5,278 L1346.5,273 L1356,263.5 L1359.5,267 L1350,276.5 Z" fill="#cfcfcf"/>
<path d="M1357.5,261.5 L1359,260 L1362,263 L1360.5,264.5 Z" fill="#cfcfcf"/>
<line x1="1336" y1="293" x2="1361" y2="293" stroke="#232323" stroke-width="1.2"/><line x1="1336" y1="294.5" x2="1361" y2="294.5" stroke="#444" stroke-width="1"/>
<rect x="1345.5" y="301.5" width="4" height="4" fill="#4fb0be"/>
<line x1="1348" y1="304" x2="1362" y2="319" stroke="#4fb0be" stroke-width="1.5"/>
<line x1="1344.5" y1="345.7" x2="1361" y2="345.7" stroke="#4fb0be" stroke-width="1.5"/>
<path d="M1347,370 V388.5 H1362 Z" fill="none" stroke="#4fb0be" stroke-width="1.5"/>
<rect x="1347" y="403" width="18" height="19.5" fill="none" stroke="#4fb0be" stroke-width="1.5"/>
<circle cx="1357.5" cy="445.3" r="10.5" fill="none" stroke="#4fb0be" stroke-width="1.5"/>
<path d="M1345,468.5 H1361 M1345,475.3 H1361 M1345,478.3 H1361 M1345,481.3 H1361 M1345,488.2 H1361" stroke="#4fb0be" stroke-width="1.5"/>
<path d="M1345,501.6 H1361 M1345,507.7 H1358 M1345,510.9 H1358 M1345,514.1 H1358 M1345,521.6 H1358" stroke="#4fb0be" stroke-width="1.5"/>
<path d="M1344.7,544 L1361,533.4 M1344.7,549.3 L1361,540.9 M1344.7,555.8 L1356,549.3" stroke="#4fb0be" stroke-width="1.5"/>
<rect x="1359" y="548.5" width="3" height="5" fill="#e8e8e8"/>
<line x1="1346.2" y1="567" x2="1361" y2="582" stroke="#4fb0be" stroke-width="1.5"/>
<rect x="1352.5" y="598" width="9" height="11" fill="#d94848"/>
</svg>
</body></html>
